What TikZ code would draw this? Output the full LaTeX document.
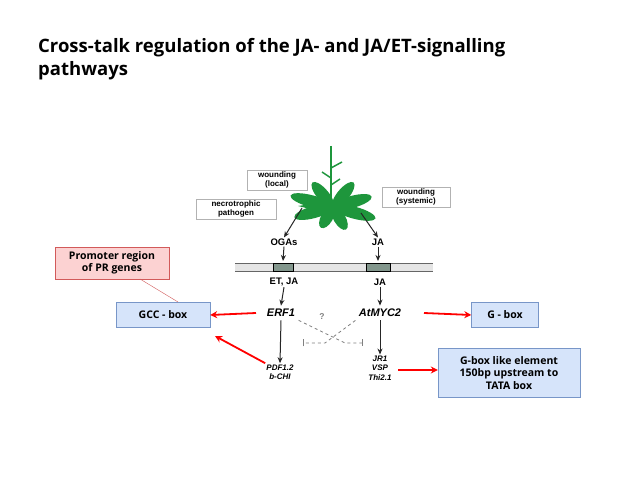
\documentclass[tikz,border=0pt]{standalone}
\usepackage{fontspec}
\setmainfont{Open Sans}
\newfontfamily\arial{Liberation Sans}
\usetikzlibrary{arrows.meta}
\definecolor{bluefill}{RGB}{214,228,250}
\definecolor{blueline}{RGB}{120,150,200}
\definecolor{pinkfill}{RGB}{252,210,210}
\definecolor{pinkline}{RGB}{210,90,90}
\definecolor{plantgreen}{RGB}{30,150,60}
\definecolor{memfill}{RGB}{130,150,140}
\begin{document}
\begin{tikzpicture}[x=1pt,y=-1pt,
  bluebox/.style={draw=blueline,fill=bluefill,font=\bfseries\fontsize{10.5}{12.5}\selectfont,align=center,inner sep=2pt},
  pinkbox/.style={draw=pinkline,fill=pinkfill,font=\bfseries\fontsize{10.5}{12.5}\selectfont,align=center,inner sep=2pt},
  graybox/.style={draw=gray!60,fill=white,font=\arial\bfseries\fontsize{8}{9}\selectfont,align=center,inner sep=2pt},
  lab/.style={font=\arial\bfseries\fontsize{9.5}{10}\selectfont,inner sep=1pt},
  ilab/.style={font=\arial\bfseries\itshape\fontsize{8}{9.5}\selectfont,inner sep=1pt,align=center},
  blk/.style={-{Stealth[length=6pt,width=5pt]},line width=1pt,black!85},
  red/.style={-{Stealth[length=7pt,width=7pt]},draw=red,line width=1.8pt},
  dsh/.style={dashed,gray,thick}]
\useasboundingbox (0,0) rectangle (638,478);
\fill[white] (0,0) rectangle (638,478);
\node[anchor=north west,align=left,font=\bfseries\fontsize{18.5}{23}\selectfont,inner sep=0pt] (title) at (38,38)
 {Cross-talk regulation of the JA- and JA/ET-signalling\\pathways};
% plant
\draw[plantgreen,line width=2.5pt] (331,146) -- (331,205);
\draw[plantgreen,line width=1.5pt] (331,168) -- (342,162) (331,178) -- (322,172) (331,185) -- (340,179);
\foreach \a/\l in {15/20,-15/22,165/22,195/20,50/16,130/16,-60/13,240/12}
  \fill[plantgreen,rotate around={\a:(333,207)}] (333+\l,207) ellipse (\l pt and 6pt);
\fill[plantgreen] (298,206) -- (318,203) -- (318,211) -- cycle;
% boxes
\node[graybox,minimum width=60pt] (wl) at (277,180) {wounding\\(local)};
\node[graybox,minimum width=80pt] (np) at (236,209) {necrotrophic\\pathogen};
\node[graybox,minimum width=68pt] (ws) at (416,197) {wounding\\(systemic)};
\node[lab] (oga) at (284,242) {OGAs};
\node[lab] (ja1) at (378,242) {JA};
\coordinate (pl) at (302,208);
\coordinate (pr) at (361,213);
\draw[blk] (pl) -- (oga.north);
\draw[blk] (pr) -- (ja1.north);
% membrane
\fill[gray!20] (235,263) rectangle (433,271);
\draw[gray!80!black] (235,263) -- (433,263) (235,271) -- (433,271);
\draw[fill=memfill] (273,263) rectangle (293,271);
\draw[fill=memfill] (366,263) rectangle (390,271);
\coordinate (m1) at (283,261);
\coordinate (m2) at (378,261);
\draw[blk] (oga.south) -- (m1);
\draw[blk] (ja1.south) -- (m2);
\node[lab] (etja) at (284,282) {ET, JA};
\node[lab] (ja2) at (380,282) {JA};
\node[font=\arial\bfseries\itshape\fontsize{11}{12}\selectfont] (erf) at (281,313) {ERF1};
\node[font=\arial\bfseries\itshape\fontsize{11}{12}\selectfont] (myc) at (380,313) {AtMYC2};
\draw[blk] (etja.south) -- (erf.north);
\draw[blk] (ja2.south) -- (myc.north);
\node[font=\arial\bfseries\fontsize{8.5}{9}\selectfont,gray] (q) at (322,317) {?};
\coordinate (b1) at (363,343);
\coordinate (b2) at (303,343);
\draw[dsh,-{Bar[width=7pt]}] (erf.south east) -- (345,343) -- (b1);
\draw[dsh,-{Bar[width=7pt]}] (myc.south west) -- (325,343) -- (b2);
\node[ilab] (pdf) at (280,372) {PDF1.2\\b-CHI};
\node[ilab] (jr) at (380,368) {JR1\\VSP\\Thi2.1};
\draw[blk] (erf.south) -- (pdf.north);
\draw[blk] (myc.south) -- (jr.north);
% colored boxes
\node[bluebox,minimum width=94pt,minimum height=25pt] (gcc) at (163,315) {GCC - box};
\node[bluebox,minimum width=67pt,minimum height=25pt] (gb) at (505,315) {G - box};
\node[bluebox,minimum width=142pt,minimum height=49pt] (gbl) at (509,373) {G-box like element\\150bp upstream to\\TATA box};
\node[pinkbox,minimum width=114pt,minimum height=32pt] (pr1) at (112,263) {Promoter region\\of PR genes};
\coordinate (pa) at (140,279);
\coordinate (pb) at (178,302);
\draw[pinkline] (pa) -- (pb);
\coordinate (e1) at (256,313);
\coordinate (e2) at (424,313);
\draw[red] (e1) -- (gcc.east);
\draw[red] (e2) -- (gb.west);
\draw[red] (pdf.north west) -- (215,336);
\coordinate (vsp) at (398,370);
\draw[red] (vsp) -- (gbl.west |- vsp);
\end{tikzpicture}
\end{document}
